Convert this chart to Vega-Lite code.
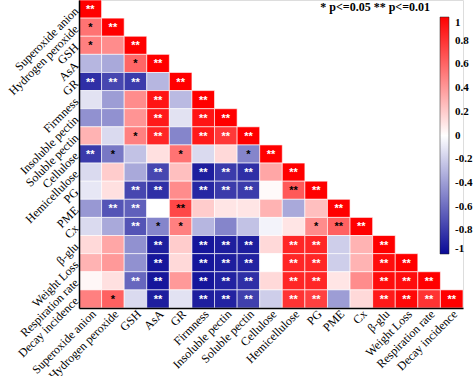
{
  "$schema": "https://vega.github.io/schema/vega-lite/v6.json",
  "autosize": {"type": "none"},
  "padding": {"left": 79, "top": 0, "right": 11, "bottom": 68},
  "width": 384,
  "height": 308,
  "background": "white",
  "title": {
    "text": "* p<=0.05  ** p<=0.01",
    "anchor": "end",
    "orient": "top",
    "frame": "group",
    "offset": -26,
    "dx": -33,
    "baseline": "bottom",
    "font": "Liberation Serif",
    "fontSize": 12,
    "fontWeight": "bold",
    "color": "black"
  },
  "data": {"values": [
    {"y":"Superoxide anion","x":"Superoxide anion","r":1,"p":"**"},
    {"y":"Hydrogen peroxide","x":"Superoxide anion","r":0.55,"p":"*"},
    {"y":"Hydrogen peroxide","x":"Hydrogen peroxide","r":1,"p":"**"},
    {"y":"GSH","x":"Superoxide anion","r":0.5,"p":"*"},
    {"y":"GSH","x":"Hydrogen peroxide","r":0.45,"p":""},
    {"y":"GSH","x":"GSH","r":1,"p":"**"},
    {"y":"AsA","x":"Superoxide anion","r":-0.3,"p":""},
    {"y":"AsA","x":"Hydrogen peroxide","r":-0.35,"p":""},
    {"y":"AsA","x":"GSH","r":0.6,"p":"*"},
    {"y":"AsA","x":"AsA","r":1,"p":"**"},
    {"y":"GR","x":"Superoxide anion","r":-0.85,"p":"**"},
    {"y":"GR","x":"Hydrogen peroxide","r":-0.75,"p":"**"},
    {"y":"GR","x":"GSH","r":-0.8,"p":"**"},
    {"y":"GR","x":"AsA","r":-0.3,"p":""},
    {"y":"GR","x":"GR","r":1,"p":"**"},
    {"y":"Firmness","x":"Superoxide anion","r":-0.12,"p":""},
    {"y":"Firmness","x":"Hydrogen peroxide","r":-0.4,"p":""},
    {"y":"Firmness","x":"GSH","r":0.45,"p":""},
    {"y":"Firmness","x":"AsA","r":0.92,"p":"**"},
    {"y":"Firmness","x":"GR","r":-0.28,"p":""},
    {"y":"Firmness","x":"Firmness","r":1,"p":"**"},
    {"y":"Insoluble pectin","x":"Superoxide anion","r":-0.45,"p":""},
    {"y":"Insoluble pectin","x":"Hydrogen peroxide","r":-0.45,"p":""},
    {"y":"Insoluble pectin","x":"GSH","r":0.42,"p":""},
    {"y":"Insoluble pectin","x":"AsA","r":0.9,"p":"**"},
    {"y":"Insoluble pectin","x":"GR","r":-0.12,"p":""},
    {"y":"Insoluble pectin","x":"Firmness","r":0.92,"p":"**"},
    {"y":"Insoluble pectin","x":"Insoluble pectin","r":1,"p":"**"},
    {"y":"Soluble pectin","x":"Superoxide anion","r":0.3,"p":""},
    {"y":"Soluble pectin","x":"Hydrogen peroxide","r":-0.15,"p":""},
    {"y":"Soluble pectin","x":"GSH","r":0.5,"p":"*"},
    {"y":"Soluble pectin","x":"AsA","r":0.85,"p":"**"},
    {"y":"Soluble pectin","x":"GR","r":-0.5,"p":""},
    {"y":"Soluble pectin","x":"Firmness","r":0.9,"p":"**"},
    {"y":"Soluble pectin","x":"Insoluble pectin","r":0.78,"p":"**"},
    {"y":"Soluble pectin","x":"Soluble pectin","r":1,"p":"**"},
    {"y":"Cellulose","x":"Superoxide anion","r":-0.8,"p":"**"},
    {"y":"Cellulose","x":"Hydrogen peroxide","r":-0.55,"p":"*"},
    {"y":"Cellulose","x":"GSH","r":-0.25,"p":""},
    {"y":"Cellulose","x":"AsA","r":0.12,"p":""},
    {"y":"Cellulose","x":"GR","r":0.55,"p":"*"},
    {"y":"Cellulose","x":"Firmness","r":-0.15,"p":""},
    {"y":"Cellulose","x":"Insoluble pectin","r":0.15,"p":""},
    {"y":"Cellulose","x":"Soluble pectin","r":-0.5,"p":"*"},
    {"y":"Cellulose","x":"Cellulose","r":1,"p":"**"},
    {"y":"Hemicellulose","x":"Superoxide anion","r":-0.15,"p":""},
    {"y":"Hemicellulose","x":"Hydrogen peroxide","r":0.2,"p":""},
    {"y":"Hemicellulose","x":"GSH","r":-0.35,"p":""},
    {"y":"Hemicellulose","x":"AsA","r":-0.75,"p":"**"},
    {"y":"Hemicellulose","x":"GR","r":0.25,"p":""},
    {"y":"Hemicellulose","x":"Firmness","r":-0.92,"p":"**"},
    {"y":"Hemicellulose","x":"Insoluble pectin","r":-0.8,"p":"**"},
    {"y":"Hemicellulose","x":"Soluble pectin","r":-0.85,"p":"**"},
    {"y":"Hemicellulose","x":"Cellulose","r":0.35,"p":""},
    {"y":"Hemicellulose","x":"Hemicellulose","r":1,"p":"**"},
    {"y":"PG","x":"Superoxide anion","r":-0.1,"p":""},
    {"y":"PG","x":"Hydrogen peroxide","r":0.12,"p":""},
    {"y":"PG","x":"GSH","r":-0.75,"p":"**"},
    {"y":"PG","x":"AsA","r":-0.85,"p":"**"},
    {"y":"PG","x":"GR","r":0.45,"p":""},
    {"y":"PG","x":"Firmness","r":-0.88,"p":"**"},
    {"y":"PG","x":"Insoluble pectin","r":-0.8,"p":"**"},
    {"y":"PG","x":"Soluble pectin","r":-0.8,"p":"**"},
    {"y":"PG","x":"Cellulose","r":0.02,"p":""},
    {"y":"PG","x":"Hemicellulose","r":0.65,"p":"**"},
    {"y":"PG","x":"PG","r":1,"p":"**"},
    {"y":"PME","x":"Superoxide anion","r":-0.42,"p":""},
    {"y":"PME","x":"Hydrogen peroxide","r":-0.7,"p":"**"},
    {"y":"PME","x":"GSH","r":-0.65,"p":"**"},
    {"y":"PME","x":"AsA","r":0,"p":""},
    {"y":"PME","x":"GR","r":0.72,"p":"**"},
    {"y":"PME","x":"Firmness","r":0.2,"p":""},
    {"y":"PME","x":"Insoluble pectin","r":0.1,"p":""},
    {"y":"PME","x":"Soluble pectin","r":0.1,"p":""},
    {"y":"PME","x":"Cellulose","r":0.3,"p":""},
    {"y":"PME","x":"Hemicellulose","r":-0.35,"p":""},
    {"y":"PME","x":"PG","r":0.25,"p":""},
    {"y":"PME","x":"PME","r":1,"p":"**"},
    {"y":"Cx","x":"Superoxide anion","r":-0.15,"p":""},
    {"y":"Cx","x":"Hydrogen peroxide","r":-0.35,"p":""},
    {"y":"Cx","x":"GSH","r":-0.7,"p":"**"},
    {"y":"Cx","x":"AsA","r":-0.5,"p":"*"},
    {"y":"Cx","x":"GR","r":0.5,"p":"*"},
    {"y":"Cx","x":"Firmness","r":-0.3,"p":""},
    {"y":"Cx","x":"Insoluble pectin","r":-0.5,"p":""},
    {"y":"Cx","x":"Soluble pectin","r":-0.25,"p":""},
    {"y":"Cx","x":"Cellulose","r":-0.05,"p":""},
    {"y":"Cx","x":"Hemicellulose","r":0.1,"p":""},
    {"y":"Cx","x":"PG","r":0.45,"p":"*"},
    {"y":"Cx","x":"PME","r":0.62,"p":"**"},
    {"y":"Cx","x":"Cx","r":1,"p":"**"},
    {"y":"β-glu","x":"Superoxide anion","r":0.15,"p":""},
    {"y":"β-glu","x":"Hydrogen peroxide","r":0.35,"p":""},
    {"y":"β-glu","x":"GSH","r":-0.45,"p":""},
    {"y":"β-glu","x":"AsA","r":-0.92,"p":"**"},
    {"y":"β-glu","x":"GR","r":0.2,"p":""},
    {"y":"β-glu","x":"Firmness","r":-0.95,"p":"**"},
    {"y":"β-glu","x":"Insoluble pectin","r":-0.92,"p":"**"},
    {"y":"β-glu","x":"Soluble pectin","r":-0.92,"p":"**"},
    {"y":"β-glu","x":"Cellulose","r":0.15,"p":""},
    {"y":"β-glu","x":"Hemicellulose","r":0.85,"p":"**"},
    {"y":"β-glu","x":"PG","r":0.85,"p":"**"},
    {"y":"β-glu","x":"PME","r":-0.2,"p":""},
    {"y":"β-glu","x":"Cx","r":0.3,"p":""},
    {"y":"β-glu","x":"β-glu","r":1,"p":"**"},
    {"y":"Weight Loss","x":"Superoxide anion","r":0.3,"p":""},
    {"y":"Weight Loss","x":"Hydrogen peroxide","r":0.4,"p":""},
    {"y":"Weight Loss","x":"GSH","r":-0.45,"p":""},
    {"y":"Weight Loss","x":"AsA","r":-0.95,"p":"**"},
    {"y":"Weight Loss","x":"GR","r":0.15,"p":""},
    {"y":"Weight Loss","x":"Firmness","r":-0.95,"p":"**"},
    {"y":"Weight Loss","x":"Insoluble pectin","r":-0.92,"p":"**"},
    {"y":"Weight Loss","x":"Soluble pectin","r":-0.9,"p":"**"},
    {"y":"Weight Loss","x":"Cellulose","r":0,"p":""},
    {"y":"Weight Loss","x":"Hemicellulose","r":0.85,"p":"**"},
    {"y":"Weight Loss","x":"PG","r":0.85,"p":"**"},
    {"y":"Weight Loss","x":"PME","r":-0.2,"p":""},
    {"y":"Weight Loss","x":"Cx","r":0.3,"p":""},
    {"y":"Weight Loss","x":"β-glu","r":0.95,"p":"**"},
    {"y":"Weight Loss","x":"Weight Loss","r":1,"p":"**"},
    {"y":"Respiration rate","x":"Superoxide anion","r":0.03,"p":""},
    {"y":"Respiration rate","x":"Hydrogen peroxide","r":0.12,"p":""},
    {"y":"Respiration rate","x":"GSH","r":-0.62,"p":"**"},
    {"y":"Respiration rate","x":"AsA","r":-0.95,"p":"**"},
    {"y":"Respiration rate","x":"GR","r":0.4,"p":""},
    {"y":"Respiration rate","x":"Firmness","r":-0.95,"p":"**"},
    {"y":"Respiration rate","x":"Insoluble pectin","r":-0.9,"p":"**"},
    {"y":"Respiration rate","x":"Soluble pectin","r":-0.85,"p":"**"},
    {"y":"Respiration rate","x":"Cellulose","r":0.15,"p":""},
    {"y":"Respiration rate","x":"Hemicellulose","r":0.85,"p":"**"},
    {"y":"Respiration rate","x":"PG","r":0.85,"p":"**"},
    {"y":"Respiration rate","x":"PME","r":0.1,"p":""},
    {"y":"Respiration rate","x":"Cx","r":0.45,"p":""},
    {"y":"Respiration rate","x":"β-glu","r":0.95,"p":"**"},
    {"y":"Respiration rate","x":"Weight Loss","r":0.95,"p":"**"},
    {"y":"Respiration rate","x":"Respiration rate","r":1,"p":"**"},
    {"y":"Decay incidence","x":"Superoxide anion","r":0.5,"p":""},
    {"y":"Decay incidence","x":"Hydrogen peroxide","r":0.62,"p":"*"},
    {"y":"Decay incidence","x":"GSH","r":-0.15,"p":""},
    {"y":"Decay incidence","x":"AsA","r":-0.92,"p":"**"},
    {"y":"Decay incidence","x":"GR","r":-0.12,"p":""},
    {"y":"Decay incidence","x":"Firmness","r":-0.92,"p":"**"},
    {"y":"Decay incidence","x":"Insoluble pectin","r":-0.9,"p":"**"},
    {"y":"Decay incidence","x":"Soluble pectin","r":-0.78,"p":"**"},
    {"y":"Decay incidence","x":"Cellulose","r":-0.2,"p":""},
    {"y":"Decay incidence","x":"Hemicellulose","r":0.8,"p":"**"},
    {"y":"Decay incidence","x":"PG","r":0.75,"p":"**"},
    {"y":"Decay incidence","x":"PME","r":-0.4,"p":""},
    {"y":"Decay incidence","x":"Cx","r":0.15,"p":""},
    {"y":"Decay incidence","x":"β-glu","r":0.9,"p":"**"},
    {"y":"Decay incidence","x":"Weight Loss","r":0.97,"p":"**"},
    {"y":"Decay incidence","x":"Respiration rate","r":0.8,"p":"**"},
    {"y":"Decay incidence","x":"Decay incidence","r":1,"p":"**"}
  ]},
  "encoding": {
    "x": {
      "field": "x", "type": "nominal",
      "sort": ["Superoxide anion","Hydrogen peroxide","GSH","AsA","GR","Firmness","Insoluble pectin","Soluble pectin","Cellulose","Hemicellulose","PG","PME","Cx","β-glu","Weight Loss","Respiration rate","Decay incidence"],
      "scale": {"paddingInner": 0, "paddingOuter": 0},
      "axis": {
        "title": null, "labelAngle": -45, "labelAlign": "right", "labelBaseline": "top",
        "labelFont": "Liberation Serif", "labelFontSize": 12, "labelColor": "black",
        "labelPadding": 0, "labelDx": 3, "labelOverlap": false, "ticks": false,
        "domainColor": "black", "domainWidth": 1.5, "grid": false
      }
    },
    "y": {
      "field": "y", "type": "nominal",
      "sort": ["Superoxide anion","Hydrogen peroxide","GSH","AsA","GR","Firmness","Insoluble pectin","Soluble pectin","Cellulose","Hemicellulose","PG","PME","Cx","β-glu","Weight Loss","Respiration rate","Decay incidence"],
      "scale": {"paddingInner": 0, "paddingOuter": 0},
      "axis": {
        "title": null, "labelAngle": -45, "labelAlign": "right", "labelBaseline": "middle",
        "labelFont": "Liberation Serif", "labelFontSize": 12, "labelColor": "black",
        "labelPadding": 3, "labelOverlap": false, "ticks": false,
        "domainColor": "black", "domainWidth": 1.5, "grid": false
      }
    }
  },
  "layer": [
    {
      "mark": {"type": "rect", "stroke": "white", "strokeWidth": 0.6},
      "encoding": {
        "color": {
          "field": "r", "type": "quantitative",
          "scale": {"domain": [-1, 0, 1], "range": ["#0a0a96", "#ffffff", "#ff0000"], "interpolate": "rgb"},
          "legend": {
            "title": null, "orient": "none", "legendX": 361, "legendY": 17,
            "direction": "vertical", "gradientLength": 237, "gradientThickness": 9,
            "gradientStrokeColor": "#222", "gradientStrokeWidth": 0.5,
            "values": [-1, -0.8, -0.6, -0.4, -0.2, 0, 0.2, 0.4, 0.6, 0.8, 1],
            "labelExpr": "'' + datum.value",
            "labelFont": "Liberation Serif", "labelFontSize": 11, "labelFontWeight": "bold",
            "labelColor": "black", "labelOffset": 6
          }
        }
      }
    },
    {
      "transform": [{"filter": "datum.p != ''"}],
      "mark": {"type": "text", "font": "Liberation Sans", "fontSize": 11, "fontWeight": "bold", "baseline": "middle", "dy": 1},
      "encoding": {
        "text": {"field": "p"},
        "color": {
          "condition": {"test": "datum.r >= 0.75 || datum.r <= -0.6", "value": "white"},
          "value": "black"
        }
      }
    }
  ]
}
